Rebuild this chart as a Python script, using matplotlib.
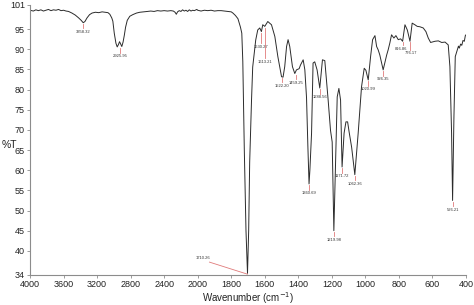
import numpy as np
import matplotlib
matplotlib.use("Agg")
import matplotlib.pyplot as plt

plt.rcParams["font.family"] = ["Liberation Sans", "DejaVu Sans"]

# IR spectrum: wavenumber (cm-1) and %T
wavenumber = [
    4000, 3960, 3930, 3900, 3870, 3840, 3810, 3780, 3750, 3720, 3690, 3660, 3630, 3600,
    3570, 3540, 3500, 3460, 3420, 3390, 3365, 3345, 3320, 3290, 3260, 3220, 3180, 3140,
    3100, 3070, 3048, 3025, 3012, 2995, 2975, 2960, 2945, 2932, 2918, 2905, 2890, 2875,
    2860, 2840, 2810, 2775, 2730, 2690, 2640, 2600, 2560, 2520, 2480, 2440, 2400, 2360,
    2320, 2290, 2270, 2255, 2240, 2220, 2200, 2180, 2160, 2140, 2120, 2100, 2080, 2060,
    2040, 2010, 2000, 1980, 1960, 1940, 1920, 1900, 1880, 1860, 1840, 1820, 1800, 1790,
    1775, 1760, 1745, 1737, 1731, 1722, 1712, 1703, 1696, 1690, 1679, 1672, 1654, 1642,
    1630, 1620, 1612, 1600, 1582, 1560, 1540, 1522, 1500, 1491, 1481, 1470, 1461, 1451,
    1435, 1421, 1411, 1395, 1387, 1371, 1361, 1351, 1343, 1336, 1331, 1321, 1312, 1302,
    1288, 1272, 1256, 1242, 1222, 1208, 1198, 1188, 1176, 1168, 1158, 1148, 1139, 1127,
    1116, 1106, 1097, 1082, 1063, 1043, 1023, 1007, 997, 983, 969, 957, 943, 933,
    924, 914, 894, 873, 864, 854, 844, 830, 818, 804, 790, 778, 764, 750,
    734, 721, 705, 691, 675, 655, 639, 625, 611, 585, 565, 545, 525, 506,
    496, 486, 480, 472, 464, 452, 445, 440, 432, 425, 418, 410, 404, 400,
]
transmittance = [
    99.7, 99.5, 99.8, 99.6, 99.8, 99.5, 99.7, 99.9, 99.6, 99.8, 99.7, 99.9, 99.6, 99.7,
    99.5, 99.4, 99.0, 98.5, 97.8, 97.2, 96.6, 96.9, 97.8, 98.6, 99.0, 99.2, 99.1, 99.3,
    99.2, 99.1, 98.7, 97.8, 97.0, 94.0, 91.5, 90.6, 91.2, 91.9, 91.3, 90.7, 91.8, 93.5,
    95.5, 97.2, 98.2, 98.6, 99.0, 99.2, 99.3, 99.4, 99.5, 99.4, 99.6, 99.5, 99.6, 99.5,
    99.6, 99.5, 99.2, 98.7, 99.3, 99.6, 99.4, 99.8, 99.5, 99.7, 99.4, 99.8, 99.5, 99.7,
    99.6, 99.9, 99.7, 99.5, 99.7, 99.6, 99.7, 99.5, 99.6, 99.6, 99.5, 99.4, 99.3, 99.0,
    98.4, 97.6, 95.5, 94.0, 87.0, 65.0, 45.0, 34.4, 45.0, 62.0, 77.4, 85.6, 92.3, 94.8,
    95.3, 94.4, 96.1, 95.7, 96.9, 96.1, 93.2, 88.2, 83.2, 83.1, 85.7, 90.7, 92.4, 90.7,
    85.7, 84.0, 84.9, 85.2, 86.1, 87.4, 84.9, 78.0, 66.0, 56.6, 60.0, 69.2, 86.6, 86.9,
    84.9, 80.4, 87.4, 87.2, 77.4, 69.9, 67.0, 45.0, 64.9, 78.2, 80.3, 77.4, 60.8, 69.2,
    72.0, 72.0, 69.5, 65.7, 58.9, 69.2, 80.7, 85.3, 84.8, 82.4, 88.2, 92.4, 93.4, 90.7,
    89.9, 88.6, 84.9, 88.6, 89.9, 91.6, 93.6, 92.8, 93.4, 92.4, 92.6, 92.0, 96.1, 94.8,
    92.0, 96.5, 96.1, 95.7, 95.6, 95.3, 94.4, 92.8, 91.7, 92.0, 92.1, 91.7, 91.8, 91.1,
    85.7, 69.2, 52.5, 73.2, 88.2, 89.9, 90.8, 90.3, 91.3, 91.0, 92.2, 92.0, 93.4, 93.6,
]

# labelled bands: text, position on the drawn curve, %T of the band
peak_labels = ["3358.32", "2925.95", "1710.26", "1630.27", "1613.21", "1522.20", "1459.25",
               "1360.69", "1288.56", "1219.98", "1171.72", "1062.36", "1020.99", "926.35",
               "816.86", "776.17", "526.21"]
peak_pos = [3365, 2925, 1703, 1620, 1600, 1500, 1415, 1336, 1272, 1188, 1139, 1063, 983,
            894, 778, 734, 480]
peak_t = [96.6, 90.6, 34.2, 94.4, 95.7, 83.2, 84.0, 56.6, 80.4, 45.0, 60.8, 58.9, 82.4,
          84.9, 92.0, 92.0, 52.5]

xticks = [4000, 3600, 3200, 2800, 2400, 2000, 1800, 1600, 1400, 1200, 1000, 800, 600, 400]
yticks = [34, 40, 45, 50, 55, 60, 65, 70, 75, 80, 85, 90, 95, 101]


# spectrometer scale: above 2000 cm-1 compressed by two
def fwd(w):
    w = np.asarray(w, dtype=float)
    return np.where(w >= 2000, 2000 + (w - 2000) / 2, w)


def inv(u):
    u = np.asarray(u, dtype=float)
    return np.where(u >= 2000, 2000 + (u - 2000) * 2, u)


fig = plt.figure(figsize=(4.74, 3.05), dpi=100)
ax = fig.add_axes([30 / 474, 30 / 305, 436 / 474, 270 / 305])
ax.set_xscale("function", functions=(fwd, inv))

ax.plot(wavenumber, transmittance, color="#2b2b2b", lw=0.7)

red = "#e07a7a"
# how far below the band each label sits, and a sideways nudge for crowded ones
drops = {"1613.21": 8.8, "1630.27": 3.7, "816.86": 1.8, "776.17": 3.0}
nudge = {"816.86": 12, "776.17": -6}
for lab, w, t in zip(peak_labels, peak_pos, peak_t):
    if lab == "1710.26":
        ax.plot([w, 1930], [t, 37.2], color=red, lw=0.6)
        ax.text(1968, 38.2, lab, fontsize=3, color="#333333", ha="center", va="center")
        continue
    drop = drops.get(lab, 2.3)
    ax.plot([w, w], [t - 0.3, t - drop + 0.9], color=red, lw=0.6)
    ax.text(w + nudge.get(lab, 0), t - drop, lab, fontsize=3, color="#333333",
            ha="center", va="center")

ax.set_xlim(4000, 400)
ax.set_ylim(34, 101)
ax.set_xticks(xticks)
ax.set_xticklabels([str(v) for v in xticks])
ax.set_yticks(yticks)
ax.minorticks_off()

for side in ["top", "right"]:
    ax.spines[side].set_visible(False)
for side in ["left", "bottom"]:
    ax.spines[side].set_color("#8c8c8c")
    ax.spines[side].set_linewidth(0.8)
ax.tick_params(axis="both", colors="#8c8c8c", labelcolor="#222222", labelsize=6.5,
               length=2.5, width=0.6, pad=1.2)

ax.set_xlabel("Wavenumber (cm$^{-1}$)", fontsize=7, color="#222222", labelpad=1)
fig.text(9 / 474, 1 - 145 / 305, "%T", fontsize=7.5, color="#222222", ha="center", va="center")

fig.savefig("out.png", dpi=100)
